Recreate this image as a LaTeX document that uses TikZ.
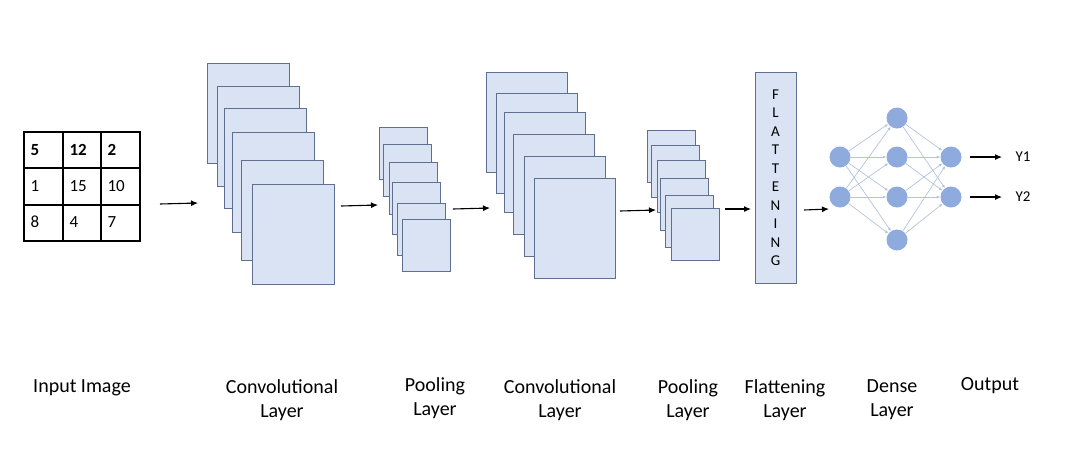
\documentclass[tikz,border=0pt]{standalone}
\usepackage{fontspec}
\setmainfont{Carlito}
\usetikzlibrary{arrows.meta}
\definecolor{fm}{HTML}{DAE3F3}
\definecolor{bd}{HTML}{5F6F8F}
\definecolor{nd}{HTML}{8FAADC}
\definecolor{ln}{HTML}{B4C3DD}
\begin{document}
\begin{tikzpicture}[x=1pt,y=-1pt,
  fmap/.style={draw=bd,fill=fm,line width=1pt},
  arr/.style={-{Latex[length=7pt,width=6pt]},line width=1.1pt},
  neu/.style={circle,fill=nd,minimum size=21pt,inner sep=0},
  con/.style={draw=ln,line width=0.7pt,-{Latex[length=3.5pt,width=3pt]}},
  lab/.style={font=\fontsize{20}{24}\selectfont,align=center},
  cell/.style={font=\fontsize{17}{20}\selectfont,anchor=west}]
\useasboundingbox (0,0) rectangle (1065,451);
% input matrix
\draw[line width=1.3pt] (24,132) rectangle (140,241);
\foreach \x in {63,101} \draw[line width=1.3pt] (\x,132) -- (\x,241);
\foreach \y in {168,205} \draw[line width=1.3pt] (24,\y) -- (140,\y);
\node[cell] (m11) at (27,150) {\textbf{5}};
\node[cell] (m12) at (66,150) {\textbf{12}};
\node[cell] (m13) at (104,150) {\textbf{2}};
\node[cell] (m21) at (27,186) {1};
\node[cell] (m22) at (66,186) {15};
\node[cell] (m23) at (104,186) {10};
\node[cell] (m31) at (27,222) {8};
\node[cell] (m32) at (66,222) {4};
\node[cell] (m33) at (104,222) {7};
% conv 1
\foreach \dx/\dy in {0/0,10/23,17/45,25/69,34/97,45/121}
  \draw[fmap] (207+\dx,63+\dy) rectangle +(82,100);
% pool 1
\foreach \dx/\dy in {0/0,4/17,10/35,13/55,18/76,23/92}
  \draw[fmap] (379+\dx,127+\dy) rectangle +(48,52);
% conv 2
\foreach \dx/\dy in {0/0,10/21,18/40,27/62,38/84,48/106}
  \draw[fmap] (486+\dx,72+\dy) rectangle +(81,100);
% pool 2
\foreach \dx/\dy in {0/0,4/15,10/30,13/48,18/65,24/78}
  \draw[fmap] (647+\dx,130+\dy) rectangle +(48,52);
% flatten
\node[fmap,minimum width=41pt,minimum height=211pt,inner sep=0,align=center,
  font=\fontsize{15}{18.5}\selectfont] (fl) at (775.5,177.5)
  {F\\L\\A\\T\\T\\E\\N\\I\\N\\G};
% dense
\node[neu] (i1) at (840,157) {};
\node[neu] (i2) at (840,197) {};
\node[neu] (h1) at (897,118) {};
\node[neu] (h2) at (897,157) {};
\node[neu] (h3) at (897,197) {};
\node[neu] (h4) at (897,240) {};
\node[neu] (o1) at (951,157) {};
\node[neu] (o2) at (951,197) {};
\foreach \a in {i1,i2} \foreach \b in {h1,h2,h3,h4} \draw[con] (\a) -- (\b);
\foreach \a in {h1,h2,h3,h4} \foreach \b in {o1,o2} \draw[con] (\a) -- (\b);
\node[font=\fontsize{15}{18}\selectfont,anchor=west] (y1) at (1012,157) {Y1};
\node[font=\fontsize{15}{18}\selectfont,anchor=west] (y2) at (1012,197) {Y2};
\coordinate (s1) at (970,157); \coordinate (e1) at (1002,157);
\coordinate (s2) at (970,197); \coordinate (e2) at (1002,197);
\draw[arr] (s1) -- (e1);
\draw[arr] (s2) -- (e2);
% arrows between stages
\coordinate (a0) at (160,204); \coordinate (b0) at (198,203);
\coordinate (a1) at (341,206); \coordinate (b1) at (378,205);
\coordinate (a2) at (453,209); \coordinate (b2) at (490,208);
\coordinate (a3) at (620,211); \coordinate (b3) at (656,210);
\coordinate (a4) at (725,209); \coordinate (b4) at (751,209);
\coordinate (a5) at (804,210); \coordinate (b5) at (829,209);
\foreach \i in {0,...,5} \draw[arr] (a\i) -- (b\i);
% labels
\node[lab] (l1) at (82,388) {Input Image};
\node[lab] (l2) at (282,400) {Convolutional\\Layer};
\node[lab] (l3) at (435,398) {Pooling\\Layer};
\node[lab] (l4) at (560,400) {Convolutional\\Layer};
\node[lab] (l5) at (688,400) {Pooling\\Layer};
\node[lab] (l6) at (785,400) {Flattening\\Layer};
\node[lab] (l7) at (892,400) {Dense\\Layer};
\node[lab] (l8) at (990,386) {Output};
\end{tikzpicture}
\end{document}
